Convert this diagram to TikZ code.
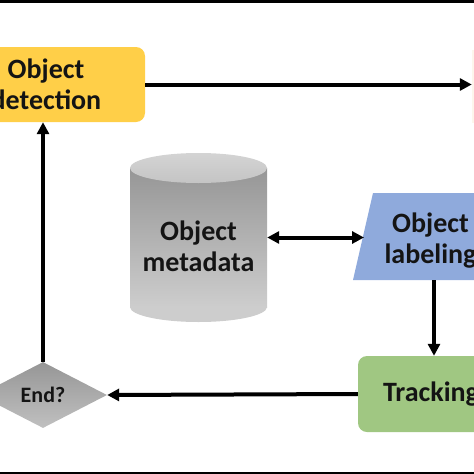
\documentclass[tikz,border=0pt]{standalone}
\usepackage{fontspec}
\setmainfont{Carlito}
\usetikzlibrary{arrows.meta,shapes.geometric}
\definecolor{detyellow}{RGB}{255,207,72}
\definecolor{labblue}{RGB}{143,170,220}
\definecolor{trkgreen}{RGB}{160,199,130}
\definecolor{txt}{RGB}{20,20,20}
\definecolor{nextcream}{RGB}{253,246,236}
\definecolor{cyltopc}{RGB}{150,150,150}
\definecolor{cylbotc}{RGB}{205,205,205}
\definecolor{capa}{RGB}{212,212,212}
\definecolor{capb}{RGB}{196,196,196}
\definecolor{endtop}{RGB}{150,150,150}
\definecolor{endbot}{RGB}{192,192,192}
\begin{document}
\begin{tikzpicture}[x=1pt,y=-1pt,
  tipT/.tip={Triangle[length=12pt,width=12pt]},
  lbl/.style={font=\bfseries\fontsize{28}{31}\selectfont, align=center, text=txt, inner sep=0pt},
  flowbox/.style={rounded corners=9pt, inner sep=0pt, align=center, text=txt,
    font=\bfseries\fontsize{28}{31}\selectfont},
  conn/.style={line width=4pt, -tipT},
  dconn/.style={line width=4pt, tipT-tipT},
  ]
\useasboundingbox (0,0) rectangle (474,474);
\clip (0,0) rectangle (474,474);
% frame bars
\fill[black] (0,0) rectangle (474,3);
\fill[black] (0,471.5) rectangle (474,474);

% object detection
\node[flowbox, fill=detyellow, minimum width=198pt, minimum height=75pt] (det) at (46,84.5) {Object\\detection};
% faint next box at right edge
\node[fill=nextcream, minimum width=10pt, minimum height=73pt, inner sep=0pt] (next) at (477,86.5) {};

% cylinder (object metadata)
\fill[cylbotc] (198.5,307) ellipse [x radius=68.5pt, y radius=15pt];
\shade[top color=cyltopc, bottom color=cylbotc] (130,168) rectangle (267,307);
\shade[top color=capa, bottom color=capb] (198.5,168) ellipse [x radius=68.5pt, y radius=15pt];
\node[minimum width=137pt, minimum height=154pt, inner sep=0pt] (meta) at (198.5,237.5) {};
\node[lbl] (metatext) at (198.5,246.5) {Object\\metadata};

% object labeling (trapezoid)
\fill[labblue] (373,193) -- (530,193) -- (550,280) -- (353,280) -- cycle;
\coordinate (labin) at (364,237.5);
\coordinate (labout) at (434,280);
\node[lbl] (lab) at (430.5,241) {Object\\labeling};

% tracking
\node[flowbox, fill=trkgreen, minimum width=146pt, minimum height=76pt] (trk) at (431,394) {Tracking};

% end diamond
\node[diamond, top color=endtop, bottom color=endbot, minimum width=128pt, minimum height=66pt,
  inner sep=0pt, text=txt, font=\bfseries\fontsize{22}{26}\selectfont] (end) at (43,395) {End?};

% connectors
\draw[conn] (det.east) -- (det.east -| next.west);
\draw[dconn] (meta.east) -- (labin);
\draw[conn] (labout) -- (trk.north -| labout);
\draw[conn] (trk.west) -- (end.east);
\draw[conn] (end.north) -- (end.north |- det.south);
\end{tikzpicture}
\end{document}
